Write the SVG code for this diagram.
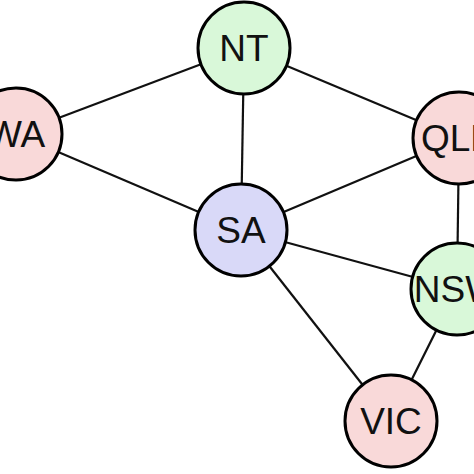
<svg xmlns="http://www.w3.org/2000/svg" width="474" height="474" viewBox="0 0 474 474">
<style>
.edge{stroke:#111;stroke-width:2.2;fill:none}
.node circle{stroke:#000;stroke-width:3}
.node text{font-family:"Liberation Sans",Arial,sans-serif;font-size:37px;fill:#111;text-anchor:middle}
.red circle{fill:#f9d9d9}
.green circle{fill:#d9f8d9}
.blue circle{fill:#d9d9f8}
</style>
<rect width="474" height="474" fill="#fff"/>
<g id="edges">
<line class="edge" x1="16" y1="134" x2="244" y2="48"/>
<line class="edge" x1="16" y1="134" x2="241" y2="230"/>
<line class="edge" x1="244" y1="48" x2="241" y2="230"/>
<line class="edge" x1="244" y1="48" x2="459" y2="138"/>
<line class="edge" x1="459" y1="138" x2="241" y2="230"/>
<line class="edge" x1="459" y1="138" x2="457" y2="289"/>
<line class="edge" x1="241" y1="230" x2="457" y2="289"/>
<line class="edge" x1="241" y1="230" x2="391" y2="421"/>
<line class="edge" x1="457" y1="289" x2="391" y2="421"/>
</g>
<g id="NT" class="node green"><circle cx="244" cy="48" r="46"/><text x="244" y="61">NT</text></g>
<g id="WA" class="node red"><circle cx="16" cy="134" r="46"/><text x="16" y="147">WA</text></g>
<g id="QLD" class="node red"><circle cx="459" cy="138" r="46"/><text x="459" y="151">QLD</text></g>
<g id="SA" class="node blue"><circle cx="241" cy="230" r="46"/><text x="241" y="243">SA</text></g>
<g id="NSW" class="node green"><circle cx="457" cy="289" r="46"/><text x="457" y="302">NSW</text></g>
<g id="VIC" class="node red"><circle cx="391" cy="421" r="46"/><text x="391" y="434">VIC</text></g>
</svg>
